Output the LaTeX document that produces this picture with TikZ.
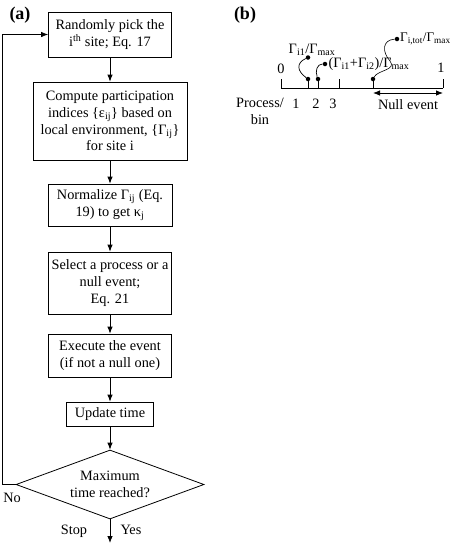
\documentclass[tikz,border=0pt]{standalone}
\usepackage{fontspec}
\setmainfont{Liberation Serif}
\usetikzlibrary{shapes.geometric,arrows.meta}

\begin{document}
\begin{tikzpicture}[x=1pt,y=-1pt,
  txt/.style={font=\fontsize{14.3}{16.8}\selectfont},
  small/.style={font=\fontsize{13.2}{15}\selectfont},
  box/.style={txt,draw,line width=0.8pt,align=center,inner sep=1pt},
  decision/.style={txt,draw,diamond,line width=0.8pt,align=center,inner sep=0pt,aspect=2.72,minimum width=188,minimum height=69},
  flow/.style={-{Latex[length=7pt,width=5.5pt]},line width=0.8pt},
  panel/.style={font=\fontsize{18}{20}\selectfont\bfseries},
  dot/.style={circle,fill,inner sep=0pt,minimum size=4.5pt}]
  \useasboundingbox (0,0) rectangle (454,544);

  \node[panel] (lbla) at (20,15) {(a)};
  \node[box,minimum width=123,minimum height=45] (pick) at (110,34.5)
    {Randomly pick the\\ i\textsuperscript{th} site; Eq. 17};
  \node[box,minimum width=154,minimum height=78] (comp) at (110,121)
    {Compute participation\\ indices \{ε\textsubscript{ij}\} based on\\ local environment, \{Γ\textsubscript{ij}\}\\ for site i};
  \node[box,minimum width=124,minimum height=42] (norm) at (110,205)
    {Normalize Γ\textsubscript{ij} (Eq.\\ 19) to get κ\textsubscript{j}};
  \node[box,minimum width=123,minimum height=62] (sel) at (110,283)
    {Select a process or a\\ null event;\\ Eq. 21};
  \node[box,minimum width=123,minimum height=43] (exe) at (110,355.5)
    {Execute the event\\ (if not a null one)};
  \node[box,minimum width=87,minimum height=24] (upd) at (110,414) {Update time};
  \node[decision] (max) at (110,484.5) {Maximum\\ time reached?};
  \coordinate (stop) at (110,543);

  \draw[flow] (pick) -- (comp);
  \draw[flow] (comp) -- (norm);
  \draw[flow] (norm) -- (sel);
  \draw[flow] (sel) -- (exe);
  \draw[flow] (exe) -- (upd);
  \draw[flow] (upd) -- (max);
  \draw[flow] (max) -- (stop);
  \draw[flow] (max.west) -- (2.5,484.5) -- (2.5,34.5) -- (pick.west);

  \node[txt] (no) at (12,498) {No};
  \node[txt] (stoplbl) at (74,531) {Stop};
  \node[txt] (yes) at (131,530) {Yes};

  \node[panel] (lblb) at (245,15) {(b)};
  \draw[line width=0.8pt] (281,88) -- (443,88);
  \foreach \t in {281,308,318,339,373,443}
    \draw[line width=0.8pt] (\t,88) -- (\t,79);
  \node[dot] (b1) at (308,79) {};
  \node[dot] (b2) at (318,79) {};
  \node[dot] (bt) at (373,79) {};
  \node[dot] (g1) at (308,57.5) {};
  \node[dot] (g2) at (325,64) {};
  \node[dot] (gt) at (397,39) {};
  \draw[line width=0.7pt] (g1) .. controls (296,63) and (297,71) .. (b1);
  \draw[line width=0.7pt] (g2) .. controls (317,64) and (315,71) .. (b2);
  \draw[line width=0.6pt] (gt) .. controls (382,40) and (382,52) .. (390,61)
    .. controls (397,70) and (378,70) .. (bt);

  \node[txt] (zero) at (281,69) {0};
  \node[txt] (one) at (441,68) {1};
  \node[txt] (r1) at (312,50) {Γ\textsubscript{i1}/Γ\textsubscript{max}};
  \node[txt,anchor=west,inner sep=1pt] (r2) at (g2.east) {(Γ\textsubscript{i1}+Γ\textsubscript{i2})/Γ\textsubscript{max}};
  \node[small,anchor=west,inner sep=0.5pt] (rt) at (gt.east) {Γ\textsubscript{i,tot}/Γ\textsubscript{max}};

  \node[txt,align=center] (proc) at (260,111) {Process/\\ bin};
  \node[txt] (p1) at (296,104) {1};
  \node[txt] (p2) at (316,104) {2};
  \node[txt] (p3) at (333,104) {3};
  \coordinate (nl) at (373,93);
  \coordinate (nr) at (443,93);
  \draw[{Latex[length=7pt,width=5.5pt]}-{Latex[length=7pt,width=5.5pt]},line width=0.8pt] (nl) -- (nr);
  \node[txt] (null) at (408,105) {Null event};
\end{tikzpicture}
\end{document}
